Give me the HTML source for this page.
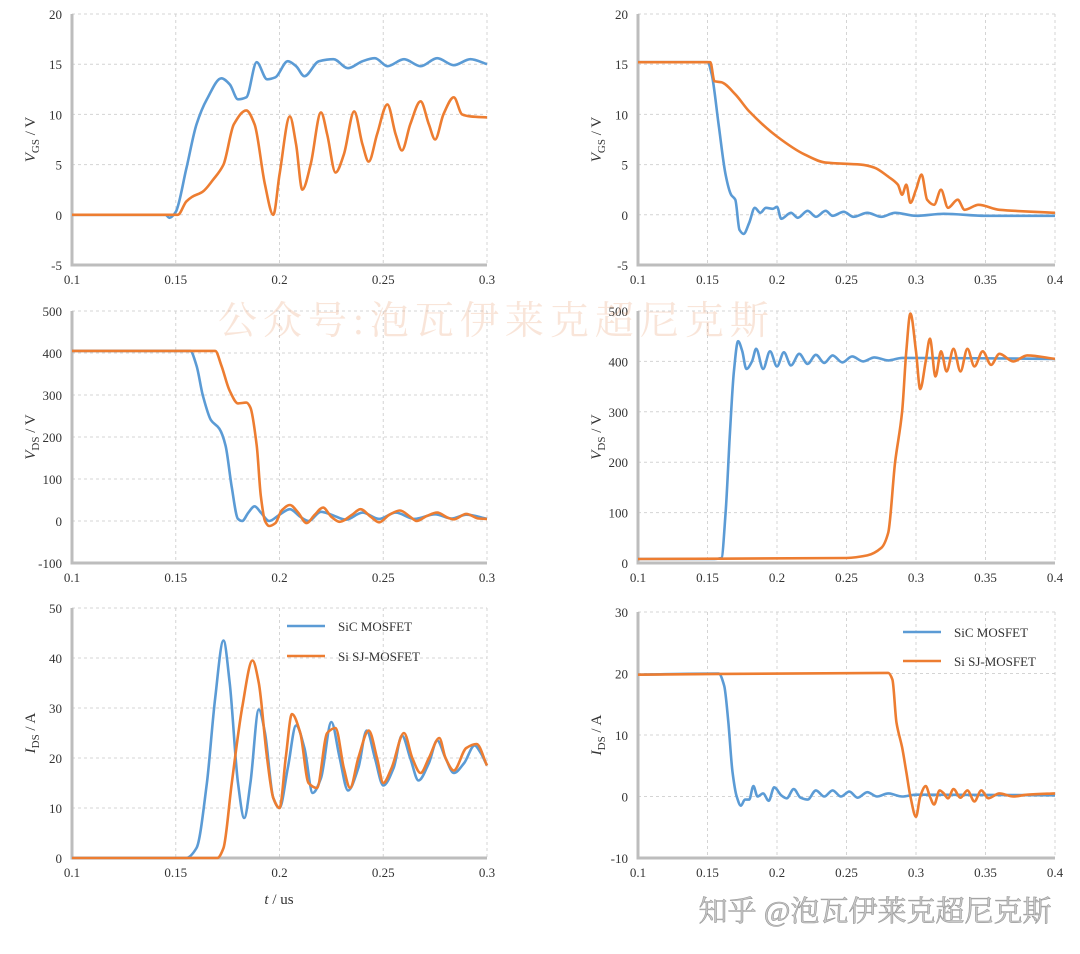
<!DOCTYPE html>
<html><head><meta charset="utf-8"><style>
body{margin:0;background:#fff;width:1080px;height:954px;overflow:hidden}
svg{display:block}
text{font-family:"Liberation Serif","Noto Serif CJK SC",serif;fill:#333}
</style></head><body>
<svg id="s" width="1080" height="954" xmlns="http://www.w3.org/2000/svg"></svg>
<script>
const S=document.getElementById('s');let h='';
function chart(o){
 const X=t=>o.x0+(t-o.t0)/(o.t1-o.t0)*(o.x1-o.x0);
 const Y=v=>o.y0+(o.v1-v)/(o.v1-o.v0)*(o.y1-o.y0);
 for(let t=o.t0;t<=o.t1+1e-9;t+=0.05){const x=X(t);h+=`<line x1="${x}" y1="${o.y0}" x2="${x}" y2="${o.y1}" stroke="#d4d4d4" stroke-dasharray="3,3"/>`;
  h+=`<text x="${x}" y="${o.y1+19}" font-size="13" text-anchor="middle">${+t.toFixed(2)}</text>`;}
 for(let v=o.v0;v<=o.v1+1e-9;v+=o.dv){const y=Y(v);h+=`<line x1="${o.x0}" y1="${y}" x2="${o.x1}" y2="${y}" stroke="#d4d4d4" stroke-dasharray="3,3"/>`;
  h+=`<text x="${o.x0-10}" y="${y+5}" font-size="13" text-anchor="end">${v}</text>`;}
 h+=`<path d="M${o.x0} ${o.y0}V${o.y1}H${o.x1}" fill="none" stroke="#bdbdbd" stroke-width="3"/>`;
 const cy=(o.y0+o.y1)/2, lx=o.x0-37;
 h+=`<text transform="translate(${lx},${cy}) rotate(-90)" font-size="15" text-anchor="middle"><tspan font-style="italic">${o.q}</tspan><tspan font-size="11" dy="4">${o.sub}</tspan><tspan dy="-4"> / ${o.u}</tspan></text>`;
 for(const [pts,c] of o.series){
  const P=pts.map(p=>[X(p[0]),Y(p[1])]);const n=P.length;
  const d_=[];for(let i=0;i<n-1;i++)d_.push((P[i+1][1]-P[i][1])/(P[i+1][0]-P[i][0]));
  const m=[];for(let i=0;i<n;i++){if(i==0)m.push(d_[0]);else if(i==n-1)m.push(d_[n-2]);else{const a=d_[i-1],b=d_[i];m.push(a*b<=0?0:2/(1/a+1/b));}}
  let d=`M${P[0][0].toFixed(1)} ${P[0][1].toFixed(1)}`;
  for(let i=0;i<n-1;i++){const dx=(P[i+1][0]-P[i][0])/3;
   d+=`C${(P[i][0]+dx).toFixed(1)} ${(P[i][1]+m[i]*dx).toFixed(1)} ${(P[i+1][0]-dx).toFixed(1)} ${(P[i+1][1]-m[i+1]*dx).toFixed(1)} ${P[i+1][0].toFixed(1)} ${P[i+1][1].toFixed(1)}`;}
  h+=`<path d="${d}" fill="none" stroke="${c}" stroke-width="2.6" stroke-linejoin="round"/>`;}
}
const B='#5b9bd5',O='#ed7d31';
const L={x0:72,x1:487,t0:0.1,t1:0.3},R={x0:638,x1:1055,t0:0.1,t1:0.4};
chart({...L,y0:14,y1:265,v0:-5,v1:20,dv:5,q:'V',sub:'GS',u:'V',series:[
[[[0.1,0],[0.145,0],[0.147,-0.3],[0.15,0.3],[0.155,4.5],[0.16,9],[0.165,11.5],[0.172,13.6],[0.176,13],[0.18,11.5],[0.184,11.7],[0.189,15.2],[0.194,13.5],[0.198,13.7],[0.204,15.3],[0.208,14.8],[0.212,13.8],[0.219,15.3],[0.226,15.5],[0.233,14.6],[0.24,15.3],[0.246,15.6],[0.252,14.8],[0.26,15.5],[0.268,14.8],[0.276,15.6],[0.284,14.9],[0.292,15.5],[0.3,15]],B],
[[[0.1,0],[0.151,0],[0.155,1.3],[0.158,1.8],[0.163,2.3],[0.168,3.5],[0.173,5],[0.178,9],[0.184,10.4],[0.188,9],[0.193,3],[0.197,0],[0.2,4],[0.205,9.8],[0.208,7],[0.211,2.5],[0.215,5],[0.22,10.2],[0.223,8],[0.227,4.2],[0.231,6],[0.236,10.3],[0.24,7],[0.243,5.3],[0.247,8],[0.252,11],[0.256,8],[0.259,6.4],[0.263,9],[0.268,11.3],[0.272,9],[0.275,7.5],[0.279,10],[0.284,11.7],[0.288,10],[0.292,9.8],[0.3,9.7]],O]]});
chart({...R,y0:14,y1:265,v0:-5,v1:20,dv:5,q:'V',sub:'GS',u:'V',series:[
[[[0.1,15.2],[0.15,15.2],[0.153,14],[0.158,9],[0.163,4],[0.167,2],[0.17,1.5],[0.173,-1.5],[0.176,-1.9],[0.18,-0.8],[0.184,0.7],[0.188,0.2],[0.192,0.7],[0.197,0.6],[0.2,0.8],[0.203,-0.4],[0.21,0.2],[0.215,-0.3],[0.222,0.4],[0.228,-0.2],[0.235,0.4],[0.24,-0.1],[0.248,0.3],[0.255,-0.2],[0.265,0.2],[0.275,-0.2],[0.285,0.2],[0.3,-0.1],[0.32,0.1],[0.35,-0.1],[0.4,-0.1]],B],
[[[0.1,15.2],[0.152,15.2],[0.155,13.3],[0.16,13.2],[0.17,12],[0.18,10.3],[0.2,7.8],[0.22,6],[0.235,5.2],[0.26,5],[0.27,4.7],[0.28,3.8],[0.287,3],[0.29,2],[0.293,3],[0.296,1.2],[0.3,2.5],[0.304,4],[0.308,1.5],[0.313,1],[0.318,2.5],[0.323,0.7],[0.33,1.5],[0.335,0.5],[0.345,1],[0.36,0.5],[0.4,0.2]],O]]});
chart({...L,y0:311,y1:563,v0:-100,v1:500,dv:100,q:'V',sub:'DS',u:'V',series:[
[[[0.1,405],[0.157,405],[0.16,370],[0.163,300],[0.167,240],[0.171,220],[0.174,180],[0.177,80],[0.18,5],[0.182,0],[0.185,20],[0.188,35],[0.191,20],[0.195,0],[0.2,15],[0.205,28],[0.21,10],[0.214,0],[0.22,22],[0.225,15],[0.232,3],[0.24,20],[0.248,5],[0.256,20],[0.265,5],[0.275,16],[0.283,6],[0.29,15],[0.3,5]],B],
[[[0.1,405],[0.169,405],[0.172,370],[0.176,310],[0.18,280],[0.184,282],[0.186,270],[0.189,180],[0.191,60],[0.193,0],[0.195,-12],[0.198,-5],[0.201,25],[0.205,38],[0.209,20],[0.213,-5],[0.217,15],[0.221,32],[0.225,10],[0.229,-2],[0.235,15],[0.239,28],[0.244,10],[0.248,-3],[0.253,15],[0.258,25],[0.263,10],[0.266,0],[0.271,12],[0.276,20],[0.281,8],[0.284,4],[0.29,17],[0.296,6],[0.3,5]],O]]});
chart({...R,y0:311,y1:563,v0:0,v1:500,dv:100,q:'V',sub:'DS',u:'V',series:[
[[[0.1,8],[0.155,8],[0.16,10],[0.163,100],[0.166,250],[0.169,380],[0.172,440],[0.175,420],[0.178,385],[0.182,400],[0.185,425],[0.19,385],[0.195,420],[0.2,390],[0.205,418],[0.21,392],[0.216,415],[0.222,395],[0.228,413],[0.234,397],[0.24,412],[0.247,398],[0.254,410],[0.262,400],[0.27,408],[0.28,402],[0.29,407],[0.4,405]],B],
[[[0.1,8],[0.25,10],[0.265,15],[0.275,30],[0.28,60],[0.285,200],[0.29,300],[0.293,420],[0.296,495],[0.3,420],[0.303,345],[0.307,400],[0.31,445],[0.314,370],[0.318,420],[0.322,380],[0.327,425],[0.332,380],[0.337,425],[0.342,390],[0.348,420],[0.354,393],[0.36,415],[0.37,400],[0.38,412],[0.4,405]],O]]});
chart({...L,y0:608,y1:858,v0:0,v1:50,dv:10,q:'I',sub:'DS',u:'A',series:[
[[[0.1,0],[0.155,0],[0.16,2],[0.165,15],[0.169,32],[0.173,43.5],[0.176,35],[0.18,15],[0.183,8],[0.186,15],[0.19,29.7],[0.193,25],[0.197,12],[0.2,10],[0.204,18],[0.208,26.5],[0.212,22],[0.216,13],[0.22,16],[0.225,27.2],[0.229,20],[0.233,13.5],[0.238,18],[0.242,25.5],[0.246,20],[0.25,14.5],[0.255,18],[0.259,24.5],[0.263,20],[0.267,15.5],[0.272,19],[0.276,23.5],[0.28,20],[0.284,17],[0.289,19],[0.294,22.5],[0.297,21],[0.3,18.5]],B],
[[[0.1,0],[0.17,0],[0.173,2],[0.177,15],[0.182,30],[0.187,39.5],[0.19,35],[0.194,20],[0.197,12],[0.2,10],[0.203,20],[0.206,28.8],[0.21,25],[0.214,15],[0.218,14],[0.223,25],[0.227,26],[0.231,18],[0.234,14],[0.238,20],[0.243,25.5],[0.247,20],[0.25,15],[0.254,18],[0.26,25],[0.264,20],[0.268,17],[0.272,20],[0.277,24],[0.28,20],[0.284,17.5],[0.29,22],[0.295,22.8],[0.3,18.5]],O]]});
chart({...R,y0:612,y1:858,v0:-10,v1:30,dv:10,q:'I',sub:'DS',u:'A',series:[
[[[0.1,19.8],[0.158,20],[0.162,18],[0.165,12],[0.168,4],[0.171,0],[0.174,-1.5],[0.177,-0.5],[0.18,-0.5],[0.183,1.7],[0.186,0],[0.19,0.5],[0.194,-0.7],[0.198,1.5],[0.203,0.2],[0.207,-0.3],[0.212,1.2],[0.217,-0.2],[0.222,-0.5],[0.228,1],[0.234,0],[0.24,1],[0.246,0],[0.252,0.8],[0.258,-0.2],[0.265,0.7],[0.272,0],[0.28,0.5],[0.29,0],[0.3,0.3],[0.4,0.2]],B],
[[[0.1,19.8],[0.28,20.1],[0.283,19],[0.286,12],[0.29,8],[0.293,4],[0.296,0],[0.3,-3.3],[0.303,0],[0.307,1.7],[0.31,0],[0.313,-1.3],[0.317,1],[0.32,0.5],[0.323,-0.3],[0.327,1.2],[0.332,-0.2],[0.337,1],[0.342,-0.8],[0.347,1],[0.352,-0.3],[0.36,0.5],[0.37,0],[0.38,0.3],[0.4,0.5]],O]]});
function leg(x,y1,y2){h+=`<line x1="${x}" y1="${y1}" x2="${x+38}" y2="${y1}" stroke="${B}" stroke-width="2.6"/><text x="${x+51}" y="${y1+5}" font-size="13">SiC MOSFET</text>
<line x1="${x}" y1="${y2}" x2="${x+38}" y2="${y2}" stroke="${O}" stroke-width="2.6"/><text x="${x+51}" y="${y2+5}" font-size="13">Si SJ-MOSFET</text>`;}
leg(287,626,656);leg(903,632,661);
h+=`<text x="279" y="904" font-size="15" text-anchor="middle"><tspan font-style="italic">t</tspan> / us</text>`;
h+=`<text x="218" y="334" font-size="39" letter-spacing="6" style="fill:rgba(235,160,120,0.28)" font-family="Noto Sans CJK SC">公众号:泡瓦伊莱克超尼克斯</text>`;
h+=`<text x="875" y="921" font-size="29" text-anchor="middle" style="fill:#c8c8c8;stroke:#999;stroke-width:0.6" font-family="Noto Sans CJK SC">知乎 @泡瓦伊莱克超尼克斯</text>`;
S.innerHTML=h;
</script>
</body></html>
